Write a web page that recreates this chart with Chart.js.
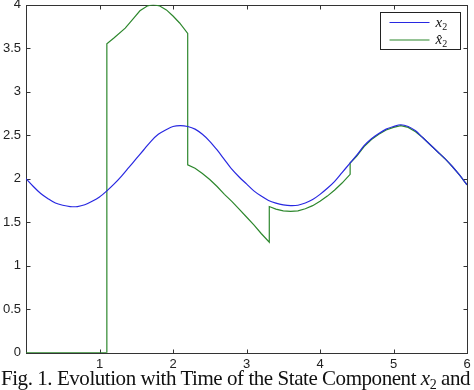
<!DOCTYPE html>
<html><head><meta charset="utf-8">
<script src="https://cdn.jsdelivr.net/npm/chart.js@4.4.1/dist/chart.umd.min.js"></script>
<style>
html,body{margin:0;padding:0;background:#fff;}
#wrap{position:relative;width:474px;height:390px;overflow:hidden;}
#c{position:absolute;left:0;top:0;}
#cap{position:absolute;left:1px;top:368px;font-family:"Liberation Serif",serif;font-size:21px;line-height:21px;letter-spacing:-0.45px;white-space:nowrap;color:#111;}
#cap i{font-style:italic;}
#cap sub{font-size:14px;vertical-align:-4px;line-height:0;}
</style></head><body>
<div id="wrap"><canvas id="c" width="474" height="390"></canvas>
<div id="cap">Fig. 1. Evolution with Time of the State Component <i>x</i><sub>2</sub> and</div></div>
<script>
const timeX2 = [0.0,0.1,0.2,0.3,0.4,0.5,0.6,0.7,0.8,0.9,1.0,1.1,1.2,1.3,1.4,1.5,1.6,1.7,1.8,1.9,2.0,2.1,2.2,2.3,2.4,2.5,2.6,2.7,2.8,2.9,3.0,3.1,3.2,3.3,3.4,3.5,3.6,3.7,3.8,3.9,4.0,4.1,4.2,4.3,4.4,4.5,4.6,4.7,4.8,4.9,5.0,5.1,5.2,5.3,5.4,5.5,5.6,5.7,5.8,5.9,6.0];
const x2Values = [2.00,1.91,1.83,1.77,1.72,1.695,1.68,1.68,1.70,1.74,1.79,1.86,1.94,2.03,2.13,2.23,2.33,2.43,2.51,2.56,2.60,2.61,2.60,2.57,2.51,2.43,2.33,2.22,2.11,2.02,1.94,1.86,1.80,1.75,1.72,1.70,1.69,1.695,1.72,1.76,1.82,1.89,1.97,2.07,2.17,2.27,2.38,2.46,2.52,2.57,2.60,2.62,2.60,2.55,2.47,2.39,2.31,2.23,2.14,2.04,1.93];
const x2HatTime = [0,1.1,1.1,1.2,1.35,1.46,1.55,1.65,1.73,1.82,1.91,2.0,2.09,2.2,2.2,2.3,2.4,2.5,2.6,2.7,2.8,2.9,3.0,3.1,3.2,3.31,3.31,3.4,3.5,3.6,3.7,3.8,3.9,4.0,4.1,4.2,4.3,4.41,4.41,4.5,4.6,4.7,4.8,4.9,5.0,5.1,5.2,5.3,5.4,5.5,5.6,5.7,5.8,5.9,6.0];
const x2HatValues = [0,0,3.55,3.62,3.73,3.84,3.93,3.985,4.0,3.985,3.94,3.87,3.79,3.67,2.16,2.12,2.06,1.99,1.91,1.82,1.74,1.65,1.56,1.47,1.37,1.27,1.68,1.65,1.63,1.625,1.63,1.655,1.69,1.74,1.80,1.87,1.95,2.05,2.18,2.26,2.37,2.45,2.51,2.56,2.59,2.61,2.59,2.54,2.47,2.39,2.31,2.23,2.14,2.04,1.93];
const xTickLabels = ['', '1', '2', '3', '4', '5', '6'];
const yTickLabels = ['0', '0.5', '1', '1.5', '2', '2.5', '3', '3.5', '4'];
const legendBase = ['x', 'x\u0302'];
const legendSub = ['2', '2'];

const framePlugin = {
  id: 'frame',
  beforeDatasetsDraw(chart) {
    const {ctx, chartArea: a, scales: {x, y}} = chart;
    ctx.save();
    ctx.strokeStyle = '#333';
    ctx.lineWidth = 1;
    const l = Math.round(a.left) + 0.5, r = Math.round(a.right) + 0.5;
    const t = Math.round(a.top) + 0.5, b = Math.round(a.bottom) + 0.5;
    ctx.strokeRect(l, t, r - l, b - t);
    const L = 4;
    ctx.beginPath();
    x.ticks.forEach(tk => {
      const px = Math.round(x.getPixelForValue(tk.value)) + 0.5;
      ctx.moveTo(px, b); ctx.lineTo(px, b - L);
      ctx.moveTo(px, t); ctx.lineTo(px, t + L);
    });
    y.ticks.forEach(tk => {
      const py = Math.round(y.getPixelForValue(tk.value)) + 0.5;
      ctx.moveTo(l, py); ctx.lineTo(l + L, py);
      ctx.moveTo(r, py); ctx.lineTo(r - L, py);
    });
    ctx.stroke();
    ctx.restore();
  },
  afterDraw(chart) {
    const {ctx, chartArea: a} = chart;
    ctx.save();
    const bx = Math.round(a.right) - 86.5, by = Math.round(a.top) + 7.5, bw = 80, bh = 37;
    ctx.fillStyle = '#fff';
    ctx.fillRect(bx, by, bw, bh);
    ctx.strokeStyle = '#222';
    ctx.lineWidth = 1;
    ctx.strokeRect(bx, by, bw, bh);
    chart.data.datasets.forEach((ds, i) => {
      const yy = by + 10 + i * 17.5;
      ctx.strokeStyle = ds.borderColor;
      ctx.lineWidth = 1.2;
      ctx.beginPath();
      ctx.moveTo(bx + 9, yy); ctx.lineTo(bx + 49, yy);
      ctx.stroke();
      ctx.fillStyle = '#111';
      ctx.textBaseline = 'alphabetic';
      ctx.font = 'italic 15px "Liberation Serif"';
      ctx.fillText(legendBase[i], bx + 55, yy + 4);
      const w = ctx.measureText('x').width;
      ctx.font = '10px "Liberation Serif"';
      ctx.fillText(legendSub[i], bx + 55 + w, yy + 7);
    });
    ctx.restore();
  }
};

const tickFont = {family: '"Liberation Sans", Arial, sans-serif', size: 13};

new Chart(document.getElementById('c'), {
  type: 'line',
  data: {
    datasets: [
      {
        label: legendBase[0] + legendSub[0],
        data: timeX2.map((t, i) => ({x: t, y: x2Values[i]})),
        borderColor: 'rgb(40,40,225)',
        borderWidth: 1.2,
        pointRadius: 0,
        tension: 0.3,
        fill: false
      },
      {
        label: legendBase[1] + legendSub[1],
        data: x2HatTime.map((t, i) => ({x: t, y: x2HatValues[i]})),
        borderColor: 'rgb(45,135,45)',
        borderWidth: 1.2,
        pointRadius: 0,
        tension: 0,
        fill: false
      }
    ]
  },
  options: {
    responsive: false,
    animation: false,
    layout: {padding: {top: 4.7, right: 7, left: 0, bottom: 0}},
    plugins: {legend: {display: false}, tooltip: {enabled: false}, title: {display: false}},
    scales: {
      x: {
        type: 'linear', min: 0, max: 6,
        grid: {display: false, drawTicks: false},
        border: {display: false},
        ticks: {stepSize: 1, padding: 4, color: '#222', font: tickFont, maxRotation: 0,
                callback: v => xTickLabels[Math.round(v)] ?? ''},
        afterFit: s => { s.height = 37.3; s.paddingLeft = 0; s.paddingRight = 0; }
      },
      y: {
        type: 'linear', min: 0, max: 4,
        grid: {display: false, drawTicks: false},
        border: {display: false},
        ticks: {stepSize: 0.5, padding: 5, color: '#222', font: tickFont,
                callback: v => yTickLabels[Math.round(v * 2)] ?? ''},
        afterFit: s => { s.width = 26; s.paddingTop = 0; s.paddingBottom = 0; }
      }
    }
  },
  plugins: [framePlugin]
});
</script>
</body></html>
